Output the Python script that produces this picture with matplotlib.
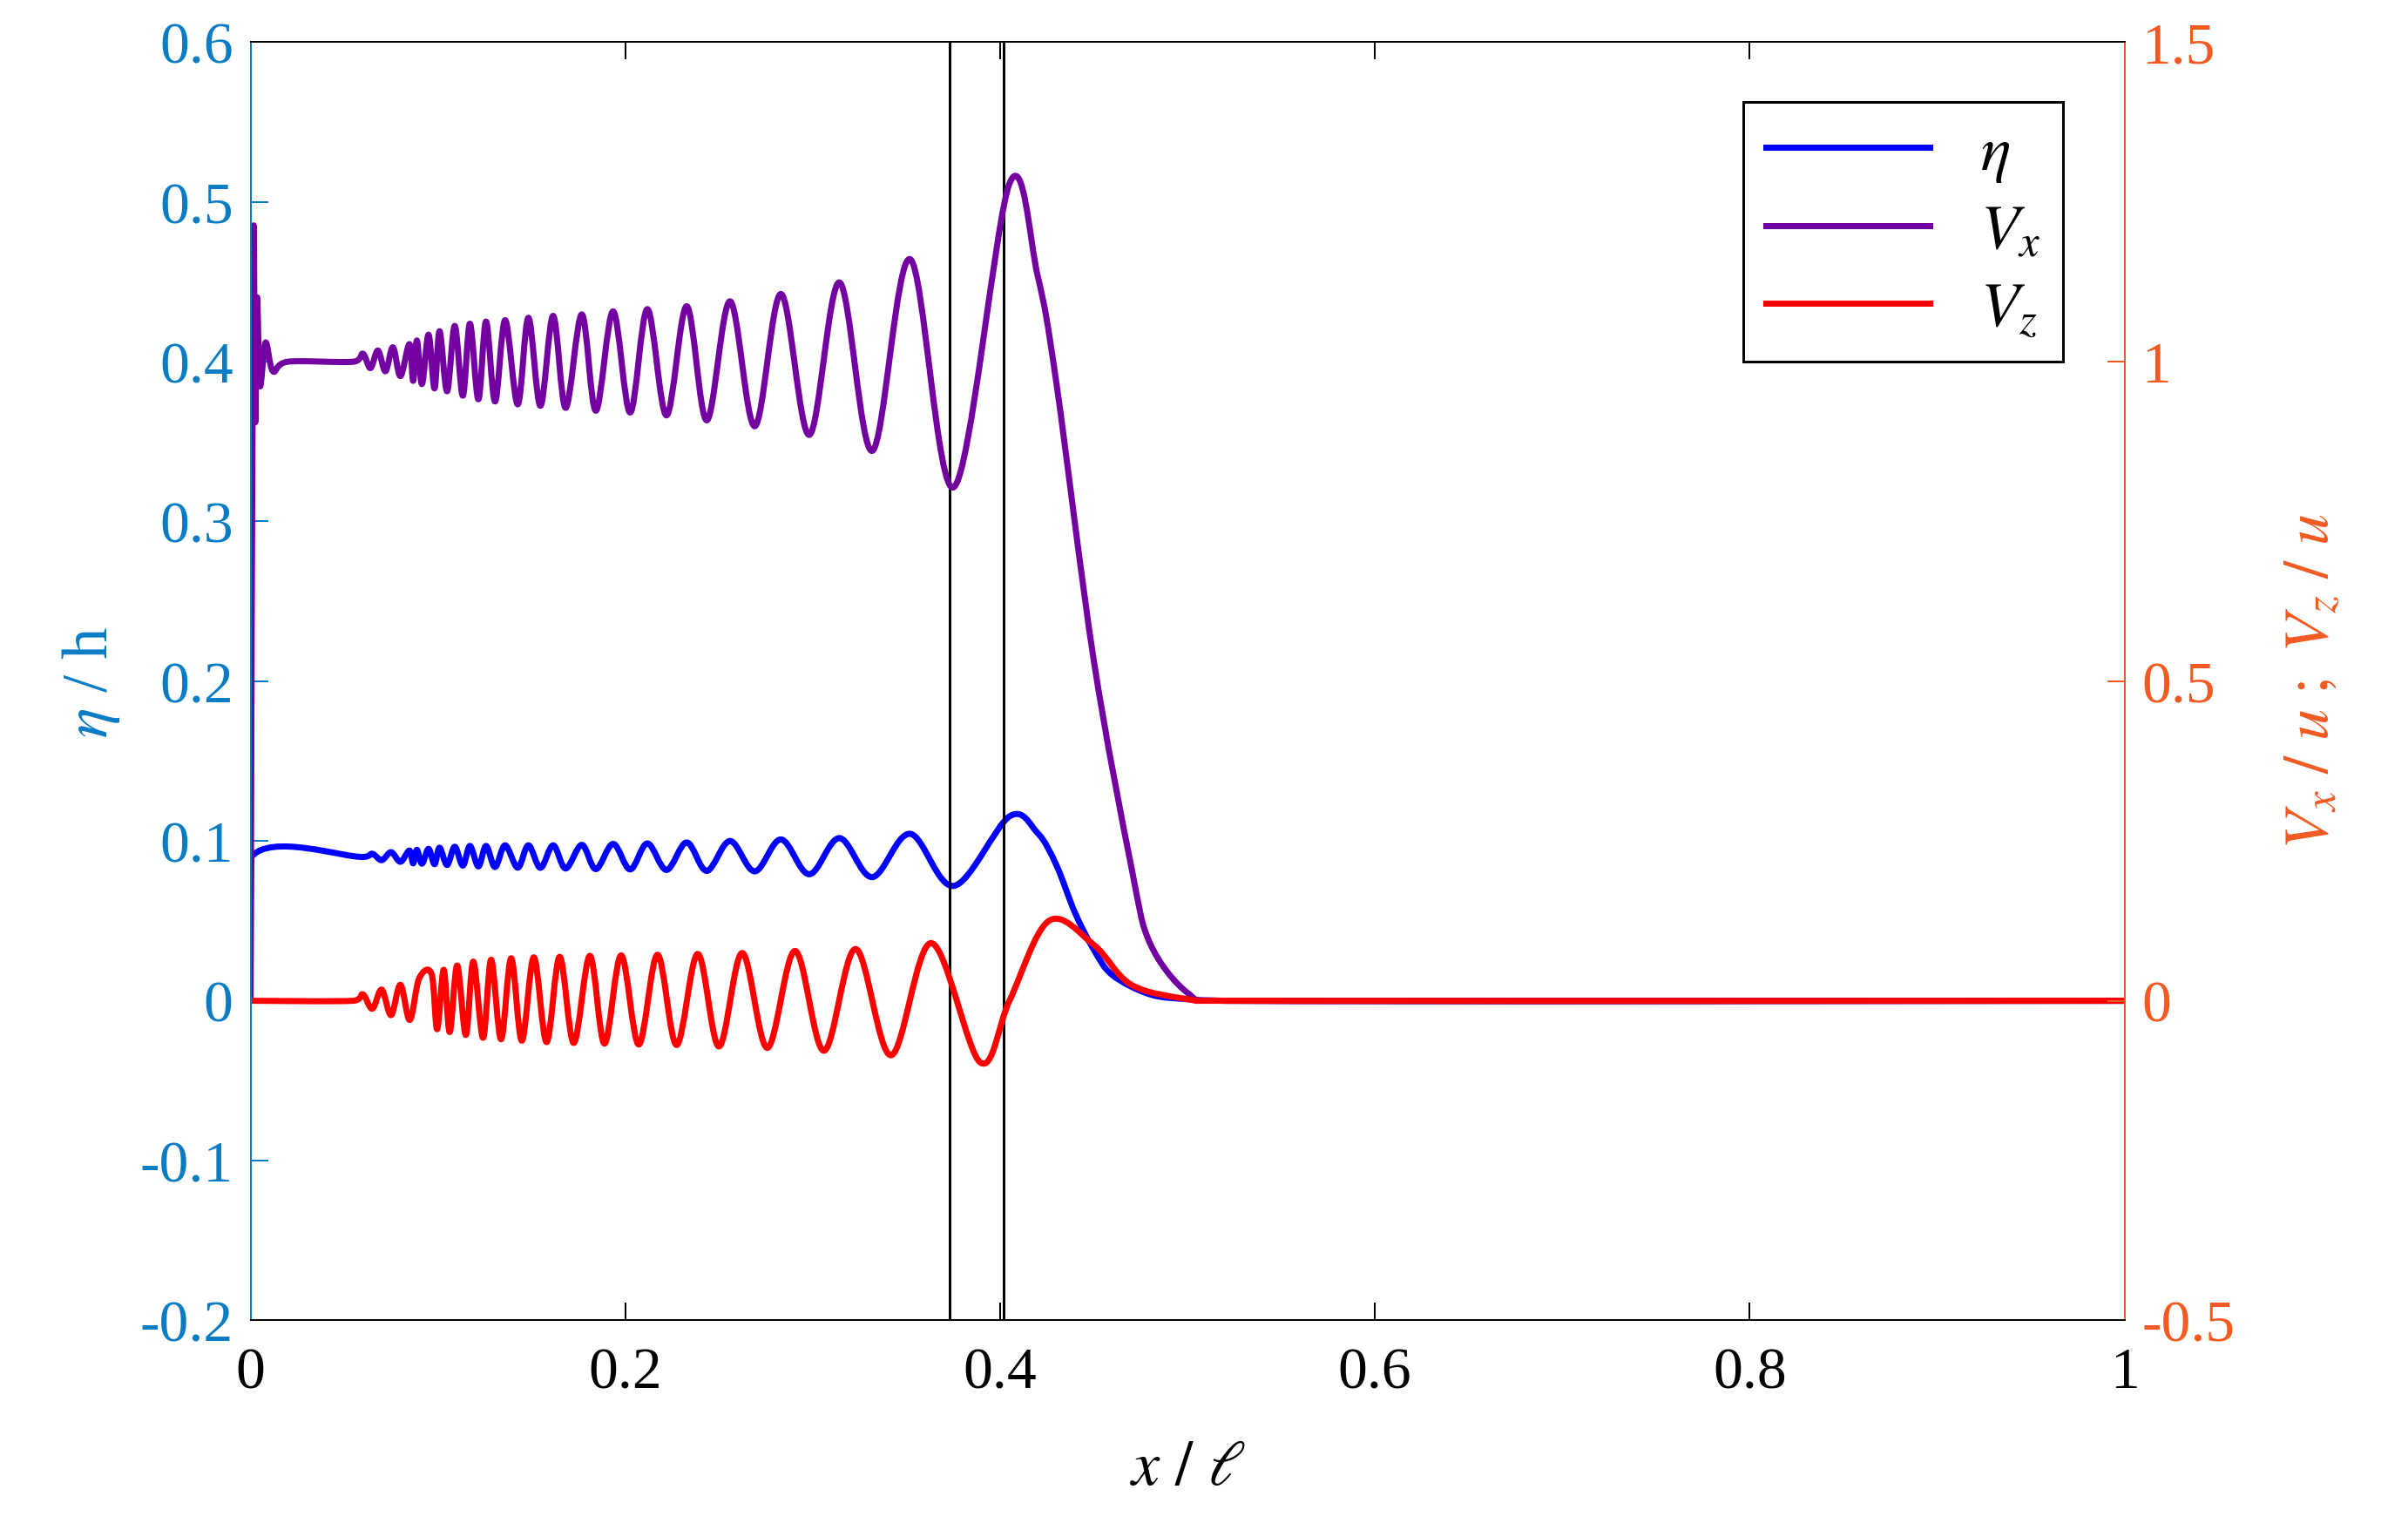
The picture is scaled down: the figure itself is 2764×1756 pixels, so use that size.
import matplotlib
matplotlib.use("Agg")
import matplotlib.pyplot as plt
from matplotlib.path import Path
from matplotlib.patches import PathPatch
from matplotlib.lines import Line2D
import numpy as np

plt.rcParams['font.family'] = ['Liberation Serif', 'DejaVu Serif']
plt.rcParams['mathtext.fontset'] = 'stix'

# values (extrema and a few shape points), in eta/h units (left axis)
eta_x = [0.0, 0.0005, 0.060, 0.065, 0.070, 0.075, 0.080, 0.0848, 0.0868, 0.0888, 0.0915,
         0.0950, 0.0982, 0.1009, 0.1049, 0.1090, 0.1133, 0.1171, 0.1216, 0.1257, 0.1305,
         0.1359, 0.1426, 0.1483, 0.1547, 0.1615, 0.1682, 0.1768, 0.1843, 0.1935, 0.2026,
         0.2118, 0.2220, 0.2328, 0.2435, 0.2559, 0.2691, 0.2831, 0.2982, 0.3143, 0.3318,
         0.3520, 0.3754, 0.4050, 0.420, 0.430, 0.440, 0.450, 0.460, 0.480, 0.500, 0.52, 1.0]
eta_y = [0.0, 0.090, 0.090, 0.092, 0.088, 0.093, 0.087, 0.094, 0.086, 0.0945, 0.0858,
         0.0951, 0.0855, 0.0958, 0.0850, 0.0964, 0.0846, 0.0969, 0.0841, 0.0969, 0.0837,
         0.0973, 0.0833, 0.0973, 0.0832, 0.0973, 0.0828, 0.0976, 0.0824, 0.0982, 0.0822,
         0.0985, 0.0819, 0.0991, 0.0813, 0.1000, 0.0810, 0.1010, 0.0792, 0.1018, 0.0774,
         0.1045, 0.0719, 0.1154, 0.105, 0.085, 0.055, 0.032, 0.016, 0.004, 0.001, 0.0, 0.0]

vx_x = [0.0, 0.0015, 0.0025, 0.0035, 0.005, 0.008, 0.012, 0.02, 0.055, 0.060, 0.064, 0.068,
        0.072, 0.076, 0.080, 0.0848, 0.0868, 0.0888, 0.0915, 0.0950, 0.0982, 0.1009, 0.1049,
        0.1090, 0.1133, 0.1171, 0.1216, 0.1257, 0.1305, 0.1359, 0.1426, 0.1483, 0.1547, 0.1615,
        0.1682, 0.1768, 0.1843, 0.1935, 0.2026, 0.2118, 0.2220, 0.2328, 0.2435, 0.2559, 0.2691,
        0.2831, 0.2982, 0.3143, 0.3318, 0.3520, 0.3754, 0.4050, 0.420, 0.430, 0.450, 0.470,
        0.480, 0.500, 0.52, 1.0]
vx_y = [0.0, 0.472, 0.362, 0.440, 0.385, 0.412, 0.394, 0.400, 0.400, 0.405, 0.396, 0.407,
        0.394, 0.409, 0.391, 0.4110, 0.388, 0.4133, 0.3860, 0.4169, 0.3833, 0.4191, 0.3815,
        0.4224, 0.3787, 0.4238, 0.3765, 0.4251, 0.3751, 0.4260, 0.3733, 0.4275, 0.3724, 0.4287,
        0.3711, 0.4296, 0.3693, 0.4315, 0.3682, 0.4329, 0.3664, 0.4347, 0.3633, 0.4378, 0.3596,
        0.4424, 0.3542, 0.4496, 0.3442, 0.4642, 0.3215, 0.5115, 0.454, 0.387, 0.213, 0.084,
        0.036, 0.005, 0.0, 0.0]

vz_x = [0.0, 0.055, 0.060, 0.065, 0.070, 0.075, 0.080, 0.085, 0.090, 0.0966, 0.0996, 0.1031,
        0.1063, 0.1103, 0.1149, 0.1189, 0.1241, 0.1284, 0.1337, 0.1391, 0.1448, 0.1512, 0.1580,
        0.1650, 0.1725, 0.1811, 0.1889, 0.1978, 0.2072, 0.2172, 0.2274, 0.2387, 0.2500, 0.2624,
        0.2758, 0.2906, 0.3060, 0.3229, 0.3418, 0.3633, 0.3894, 0.405, 0.426, 0.450, 0.470,
        0.500, 0.52, 1.0]
vz_y = [0.0, 0.0, 0.004, -0.005, 0.007, -0.009, 0.010, -0.012, 0.014, 0.0168, -0.0178, 0.0194,
        -0.0196, 0.0221, -0.0214, 0.0245, -0.0232, 0.0257, -0.0241, 0.0266, -0.0250, 0.0272,
        -0.0259, 0.0275, -0.0264, 0.0281, -0.0268, 0.0284, -0.0274, 0.0288, -0.0277, 0.0293,
        -0.0286, 0.0299, -0.0295, 0.0312, -0.0313, 0.0324, -0.0341, 0.0361, -0.0386, 0.0,
        0.050, 0.035, 0.010, 0.001, 0.0, 0.0]

front_x = [0.373, 0.402]

to_u = 2.5  # right axis units per left axis unit
left_c = '#0A7CC4'
right_c = '#F25A22'
eta_c, vx_c, vz_c = '#0000FF', '#7300A0', '#FF0000'


def smooth_curve(ax, xs, ys, color, lw=2.8):
    # smooth Bezier path through the read points (Catmull-Rom tangents)
    p = np.column_stack([xs, ys]).astype(float)
    verts = [p[0]]
    codes = [Path.MOVETO]
    n = len(p)
    for i in range(n - 1):
        p0 = p[i - 1] if i > 0 else p[i]
        p3 = p[i + 2] if i + 2 < n else p[i + 1]
        c1 = p[i] + (p[i + 1] - p0) / 6
        c2 = p[i + 1] - (p3 - p[i]) / 6
        # keep control points inside the segment's x range
        c1[0] = min(max(c1[0], p[i][0]), p[i + 1][0])
        c2[0] = min(max(c2[0], p[i][0]), p[i + 1][0])
        verts += [c1, c2, p[i + 1]]
        codes += [Path.CURVE4] * 3
    ax.add_patch(PathPatch(Path(verts, codes), facecolor='none', edgecolor=color,
                           lw=lw, capstyle='round', joinstyle='round'))


fig = plt.figure(figsize=(15.36, 9.76), dpi=180)
ax = fig.add_axes([0.104, 0.137, 0.778, 0.835])
ax2 = ax.twinx()

smooth_curve(ax, eta_x, eta_y, eta_c)
smooth_curve(ax2, vx_x, np.array(vx_y) * to_u, vx_c)
smooth_curve(ax2, vz_x, np.array(vz_y) * to_u, vz_c)
for fx in front_x:
    ax.axvline(fx, color='black', lw=1.2)

ax.set_xlim(0, 1)
ax.set_ylim(-0.2, 0.6)
ax2.set_ylim(-0.5, 1.5)
ax.set_xticks([0, 0.2, 0.4, 0.6, 0.8, 1])
ax.set_xticklabels(['0', '0.2', '0.4', '0.6', '0.8', '1'])
ax.set_yticks(np.arange(-0.2, 0.61, 0.1))
ax.set_yticklabels(['-0.2', '-0.1', '0', '0.1', '0.2', '0.3', '0.4', '0.5', '0.6'])
ax2.set_yticks([-0.5, 0, 0.5, 1, 1.5])
ax2.set_yticklabels(['-0.5', '0', '0.5', '1', '1.5'])

ax.tick_params(axis='x', direction='in', top=True, labelsize=27, length=8, pad=12)
ax.tick_params(axis='y', direction='in', colors=left_c, labelsize=27, length=8, pad=8)
ax2.tick_params(axis='y', direction='in', colors=right_c, labelsize=27, length=8, pad=8)
for a in (ax, ax2):
    a.spines['left'].set_color(left_c)
    a.spines['right'].set_color(right_c)

ax.set_xlabel(r'$x\ /\ \ell$', fontsize=29, labelpad=18)
ax.set_ylabel(r'$\eta$ / h', fontsize=29, color=left_c, labelpad=8)
ax2.set_ylabel(r'$V_x\ /\ u\ ;\ V_z\ /\ u$', fontsize=29, color=right_c, labelpad=22)

handles = [Line2D([], [], color=c, lw=2.8) for c in (eta_c, vx_c, vz_c)]
leg = ax2.legend(handles, [r'$\eta$', r'$V_x$', r'$V_z$'], loc='upper right',
                 bbox_to_anchor=(0.967, 0.953), borderaxespad=0, fontsize=29,
                 fancybox=False, edgecolor='black', framealpha=1, handlelength=2.6,
                 borderpad=0.35, labelspacing=0.3)
leg.get_frame().set_linewidth(1.2)

fig.savefig('out.png', dpi=180)
